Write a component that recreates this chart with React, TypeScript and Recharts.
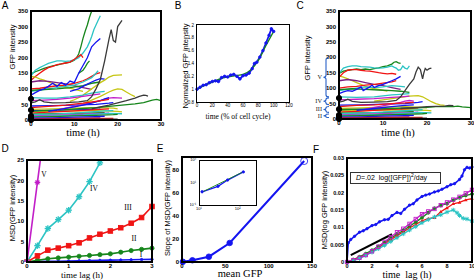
import React from "react";
import { ComposedChart, Line, XAxis, YAxis } from "recharts";

type Pt = [number, number];
type Trace = { color: string; pts: Pt[] };

const BLUE = "#1414f0";
const GREEN = "#17861c";
const RED = "#f01414";
const CYAN = "#2cc4c4";
const MAGENTA = "#c21fc8";
const OLIVE = "#c6c614";
const GRAY = "#3a3a3a";
const PURPLE = "#7c1f80";

const SANS = "'Liberation Sans', Arial, sans-serif";
const SERIF = "'Liberation Serif', 'Times New Roman', serif";

// ---- A: single-cell GFP traces (time h, intensity) ----
const TRACES_A: Trace[] = [
  { color: GREEN, pts: [[0, 148], [1, 155], [2, 160], [3, 166], [4, 170], [5, 174], [6, 176], [7, 180], [8, 183], [9, 186], [10, 192], [10.5, 200], [11, 212], [11.5, 235], [12, 262], [12.5, 285], [13, 305], [13.5, 330], [14, 350]] },
  { color: CYAN, pts: [[0, 142], [1, 160], [2, 168], [3, 175], [4, 182], [5, 186], [6, 190], [7, 190], [8, 188], [9, 190], [10, 193], [11, 200], [12, 215], [13, 235], [13.5, 250], [14, 268], [14.5, 290], [15, 305], [15.5, 320], [16, 335]] },
  { color: RED, pts: [[0, 128], [1, 140], [2, 150], [3, 160], [4, 168], [5, 172], [6, 178], [7, 180], [8, 183], [9, 186], [10, 195], [11, 205], [11.5, 210], [12, 200]] },
  { color: OLIVE, pts: [[0, 140], [1, 138], [2, 132], [3, 128], [4, 122], [5, 118], [6, 112], [7, 108], [8, 104], [9, 102], [10, 98], [11, 95], [12, 92]] },
  { color: PURPLE, pts: [[0, 122], [2, 126], [4, 124], [6, 120], [8, 116], [10, 110], [12, 104], [14, 98]] },
  { color: RED, pts: [[0, 100], [2, 102], [4, 106], [6, 110], [8, 112], [10, 118], [12, 126], [13, 132], [14, 140], [15, 148], [16, 152]] },
  { color: CYAN, pts: [[0, 92], [2, 96], [4, 100], [6, 104], [8, 108], [10, 112], [12, 122], [14, 136], [15, 150], [15.5, 158]] },
  { color: GREEN, pts: [[0, 95], [3, 98], [6, 100], [9, 104], [12, 110], [14, 118], [16, 122]] },
  { color: BLUE, pts: [[9, 92], [11, 100], [12, 108], [13, 115], [14, 122], [15, 128], [16, 133], [17, 131]] },
  { color: OLIVE, pts: [[9, 60], [10, 65], [11, 72], [12, 80], [13, 90], [14, 100], [15, 110], [16, 120], [17, 128], [18, 138], [19, 143], [20, 144], [21, 145]] },
  { color: GREEN, pts: [[0, 28], [3, 30], [6, 32], [9, 34], [12, 37], [15, 40], [18, 44], [21, 48], [24, 52], [26, 56], [27, 60], [28, 64], [29, 66], [30, 62]] },
  { color: GRAY, pts: [[14, 36], [16, 42], [18, 48], [20, 55], [22, 62], [24, 70], [25, 76], [26, 80], [26.5, 79], [27, 77]] },
  { color: OLIVE, pts: [[10, 42], [12, 52], [14, 64], [16, 76], [18, 90], [19, 96], [20, 100], [21, 98], [22, 90], [23, 82], [24, 75]] },
  { color: MAGENTA, pts: [[6, 32], [8, 38], [10, 44], [12, 50], [14, 56], [16, 62], [17, 66], [18, 70], [19, 72], [20, 71], [21, 70]] },
  { color: BLUE, pts: [[4, 28], [7, 35], [10, 42], [12, 48], [14, 54], [16, 62], [17, 68], [18, 72]] },
  { color: CYAN, pts: [[0, 72], [3, 70], [6, 70], [9, 74], [12, 80], [14, 86], [16, 90], [17, 92]] },
  { color: MAGENTA, pts: [[0, 62], [3, 64], [6, 66], [9, 70], [12, 76], [14, 80], [16, 84]] },
  { color: RED, pts: [[0, 40], [4, 44], [8, 48], [12, 54], [15, 60], [17, 64], [18, 66]] },
  { color: GREEN, pts: [[11, 150], [12, 160], [12.5, 170], [13, 182], [13.5, 190]] },
  { color: BLUE, pts: [[0, 80], [1, 88], [2, 95], [3, 100], [4, 108], [5, 118], [6, 108], [7, 120], [8, 112], [9, 125], [10, 120], [11, 150], [12, 175], [13, 200], [14, 235], [15, 250], [16, 262]] },
  { color: GRAY, pts: [[0, 55], [1, 58], [2, 65], [3, 58], [5, 55], [8, 56], [11, 58], [13, 62], [14, 75], [15, 100], [16, 130], [17, 190], [18, 260], [18.5, 290], [19, 255], [19.5, 250], [20, 300], [21, 320]] },
];

// dim cells, same in A and C
const TRACES_LOW: Trace[] = [
  { color: BLUE, pts: [[0, 45], [5, 46], [10, 48], [15, 50], [18, 54], [19, 56]] },
  { color: OLIVE, pts: [[0, 34], [5, 36], [10, 38], [15, 40], [19, 38], [20, 36]] },
  { color: BLUE, pts: [[0, 30], [6, 31], [12, 33], [16, 35]] },
  { color: OLIVE, pts: [[0, 26], [5, 27], [10, 29], [15, 30], [20, 28], [21, 26]] },
  { color: RED, pts: [[0, 22], [4, 25], [8, 28], [12, 31], [16, 34], [18, 36]] },
  { color: GREEN, pts: [[0, 19], [6, 20], [12, 22], [17, 24]] },
  { color: CYAN, pts: [[0, 17], [5, 19], [10, 22], [14, 26], [17, 29], [19, 30]] },
  { color: MAGENTA, pts: [[0, 13], [5, 15], [10, 17], [15, 20], [18, 22]] },
  { color: CYAN, pts: [[0, 11], [6, 13], [12, 16], [18, 21], [21, 20]] },
  { color: GREEN, pts: [[0, 9], [5, 11], [10, 13], [15, 15], [19, 17], [20, 18]] },
  { color: BLUE, pts: [[0, 6], [5, 7], [10, 9], [15, 11], [17, 12]] },
  { color: PURPLE, pts: [[0, 4], [6, 5], [12, 6], [16, 7]] },
  { color: RED, pts: [[0, 2], [6, 3], [12, 4], [18, 5], [19, 5]] },
  { color: GRAY, pts: [[0, 1], [8, 2], [16, 3], [20, 3]] },
];

// ---- C: traces truncated before the rise ----
const TRACES_C: Trace[] = [
  { color: OLIVE, pts: [[0, 140], [1, 136], [2, 130], [3, 124], [4, 118], [5, 112], [6, 106], [7, 102], [8, 98], [9, 96], [10, 93], [11, 90]] },
  { color: PURPLE, pts: [[0, 124], [2, 128], [4, 124], [6, 118], [8, 112], [10, 108], [12, 102], [14, 96]] },
  { color: RED, pts: [[0, 100], [2, 104], [4, 106], [6, 110], [8, 112], [10, 116], [12, 120], [13, 124]] },
  { color: CYAN, pts: [[0, 92], [2, 96], [4, 100], [6, 104], [8, 102], [10, 104], [12, 108], [14, 106], [15, 104]] },
  { color: GREEN, pts: [[0, 95], [3, 98], [6, 96], [9, 94], [12, 92], [14, 90], [16, 86]] },
  { color: OLIVE, pts: [[8, 58], [10, 62], [12, 66], [14, 70], [16, 74], [18, 76], [19, 72], [20, 64], [21, 56], [22, 50], [23, 46], [24, 44]] },
  { color: GREEN, pts: [[0, 30], [3, 31], [6, 32], [9, 33], [12, 34], [15, 35], [18, 36], [20, 38], [22, 40], [24, 40], [26, 40], [27, 42], [28, 39], [30, 37]] },
  { color: GRAY, pts: [[14, 34], [16, 36], [18, 38], [20, 40], [22, 41], [24, 42], [25, 44], [26, 43]] },
  { color: MAGENTA, pts: [[6, 32], [9, 40], [12, 48], [14, 54], [15, 58], [16, 60], [17, 58]] },
  { color: MAGENTA, pts: [[0, 62], [4, 64], [8, 66], [12, 70], [14, 72], [16, 74]] },
  { color: CYAN, pts: [[0, 72], [4, 70], [8, 72], [12, 78], [14, 80], [16, 82]] },
  { color: RED, pts: [[0, 40], [4, 44], [8, 46], [12, 50], [15, 52], [17, 54]] },
  { color: BLUE, pts: [[4, 28], [8, 34], [12, 40], [15, 44], [17, 46]] },
  { color: GREEN, pts: [[0, 148], [1, 155], [2, 158], [3, 160], [4, 162], [5, 160], [6, 162], [7, 160], [8, 163], [9, 166], [10, 170], [11, 172], [12, 178], [12.5, 184], [13, 186], [13.5, 182], [14, 180]] },
  { color: CYAN, pts: [[0, 148], [1, 165], [2, 170], [3, 172], [4, 172], [5, 170], [6, 169], [7, 168], [8, 166], [9, 165], [10, 166], [11, 168], [12, 172], [12.5, 168], [13, 165], [13.5, 158], [14, 160], [14.5, 172], [15, 165], [15.5, 162], [16, 172]] },
  { color: RED, pts: [[0, 135], [1, 150], [2, 158], [3, 160], [4, 160], [5, 158], [6, 156], [7, 155], [8, 153], [9, 150], [10, 148], [11, 146], [12, 148], [13, 145]] },
  { color: BLUE, pts: [[0, 82], [1, 88], [2, 92], [3, 90], [4, 96], [5, 104], [5.5, 92], [6, 96], [7, 104], [7.5, 110], [8, 102], [9, 108], [10, 112], [11, 118], [12, 124], [13, 130], [14, 138]] },
  { color: GRAY, pts: [[0, 55], [1, 58], [2, 64], [3, 57], [5, 54], [8, 55], [11, 56], [13, 60], [14, 72], [15, 92], [16, 112], [17, 130], [17.5, 152], [18, 168], [18.5, 160], [19, 130], [19.3, 150], [19.6, 164], [20, 158], [20.5, 163], [21, 165]] },
];

const START_DOTS = [0, 7, 13, 32, 68];
const A_X_TICKS = [0, 10, 20, 30];
const A_Y_TICKS = [0, 50, 100, 150, 200, 250, 300, 350];

// classes in C: [label, low, high]
const C_GROUPS: [string, number, number][] = [
  ["V", 70, 200],
  ["IV", 45, 70],
  ["III", 20, 42],
  ["II", 3, 18],
];

// ---- B: normalized mean trace ----
const B_DATA: Pt[] = [[0, 1], [4, 1.03], [8, 1.06], [12, 1.07], [16, 1.1], [20, 1.12], [24, 1.13], [28, 1.12], [32, 1.18], [36, 1.2], [40, 1.19], [44, 1.22], [48, 1.23], [52, 1.2], [56, 1.16], [60, 1.21], [64, 1.22], [68, 1.25], [72, 1.32], [75, 1.4], [78, 1.42], [82, 1.5], [86, 1.6], [90, 1.72], [94, 1.84], [97, 1.94], [100, 1.9]];
const B_FIT: Pt[] = [[0, 1], [10, 1.06], [20, 1.11], [30, 1.16], [40, 1.19], [50, 1.21], [60, 1.23], [70, 1.3], [80, 1.45], [90, 1.68], [100, 1.9]];

// ---- D: MSD vs time lag by class ----
const D_LAG = [0, 0.25, 0.5, 0.75, 1, 1.25, 1.5, 1.75, 2, 2.25, 2.5, 2.75, 3];
const D_I = [0, 0.1, 0.15, 0.2, 0.25, 0.3, 0.35, 0.4, 0.45, 0.5, 0.55, 0.6, 0.65];
const D_II = [0, 0.4, 0.8, 1.0, 1.2, 1.4, 1.6, 1.8, 2.0, 2.4, 2.8, 3.1, 3.4];
const D_III = [0, 1.5, 2.9, 3.4, 4.0, 4.7, 5.9, 6.8, 7.6, 8.4, 9.5, 10.9, 13.6];
const D_IV = [0, 4.0, 8.2, 10.4, 12.7, 16.0, 19.7, 24.3, 28.8];
const D_V = [0, 19.5, 39];

// ---- E: MSD slope vs mean GFP ----
const E_MEAN = [1, 12, 31, 55, 141];
const E_SLOPE = [0.2, 1.5, 4.6, 16.5, 87.5];
const E_FIT: Pt[] = [[12, 1.4], [141, 90]];

// ---- F: MSD of log GFP (x1e-3) ----
const F_BLUE: Pt[] = [[0, 0], [0.1, 5.5], [0.3, 6.5], [0.6, 7.4], [1, 8.6], [1.3, 9.0], [1.6, 9.6], [2, 10.5], [2.3, 10.8], [2.6, 11.6], [3, 12.2], [3.3, 12.3], [3.6, 13.4], [4, 14.3], [4.3, 14.0], [4.6, 15.2], [5, 16.4], [5.3, 16.8], [5.6, 17.9], [6, 18.9], [6.3, 19.3], [6.6, 19.6], [7, 20.2], [7.3, 20.5], [7.6, 21.0], [8, 21.7], [8.3, 22.3], [8.6, 22.6], [9, 23.8], [9.2, 24.8], [9.4, 26.6], [9.6, 27.3], [9.8, 27.1], [10, 27.4]];
const F_GREEN: Pt[] = [[0, 0], [0.5, 0.7], [1, 1.5], [1.5, 2.4], [2, 3.4], [2.5, 4.5], [3, 5.6], [3.5, 6.8], [4, 8.0], [4.5, 9.1], [5, 10.3], [5.5, 11.5], [6, 12.8], [6.5, 14.2], [7, 15.5], [7.5, 16.3], [8, 16.8], [8.5, 17.8], [9, 18.5], [9.5, 19.2], [10, 19.6]];
const F_RED: Pt[] = [[0, 0], [0.5, 0.6], [1, 1.3], [1.5, 2.1], [2, 3.0], [2.5, 4.1], [3, 5.2], [3.5, 6.4], [4, 7.6], [4.5, 8.7], [5, 9.8], [5.5, 10.8], [6, 11.9], [6.5, 12.5], [7, 12.8], [7.5, 14.5], [8, 15.6], [8.5, 16.8], [9, 17.2], [9.5, 17.9], [10, 18.3]];
const F_CYAN: Pt[] = [[0, 0], [0.5, 0.4], [1, 1.0], [1.5, 1.9], [2, 2.8], [2.5, 3.8], [3, 4.8], [3.5, 5.9], [4, 7.0], [4.5, 8.1], [5, 9.2], [5.5, 10.2], [6, 11.3], [6.5, 12.2], [7, 13.0], [7.5, 13.6], [8, 14.4], [8.5, 15.0], [8.8, 14.2], [9, 13.4], [9.3, 12.6], [9.6, 12.4], [10, 11.8]];
const F_MAGENTA: Pt[] = [[0, 0], [0.5, 0.5], [1, 1.2], [1.5, 2.0], [2, 3.1], [2.5, 4.4], [3, 5.8], [3.5, 7.2], [4, 8.6], [4.5, 9.6], [5, 11.0], [5.5, 12.4], [6, 13.8], [6.5, 14.6], [7, 15.3], [7.5, 16.4], [8, 17.2], [8.5, 18.0], [9, 18.8], [9.5, 19.8], [10, 20.8]];
const F_FIT: Pt[] = [[0.3, 2.0], [3.6, 8.0]];

const rows = (pts: Pt[], k = 1) => pts.map(([x, y]) => ({ x, y: y * k }));
const zip = (xs: number[], ys: number[]) => ys.map((y, i) => ({ x: xs[i], y }));

type DotP = { cx?: number; cy?: number; index?: number };
const circle = (r: number, fill: string, stroke = fill) => (p: DotP) => (
  <circle key={p.index} cx={p.cx} cy={p.cy} r={r} fill={fill} stroke={stroke} strokeWidth={0.8} />
);
const square = (s: number, fill: string, stroke: string) => (p: DotP) => (
  <rect key={p.index} x={(p.cx ?? 0) - s / 2} y={(p.cy ?? 0) - s / 2} width={s} height={s} fill={fill} stroke={stroke} strokeWidth={0.9} />
);
const tri = (s: number, color: string) => (p: DotP) => {
  const cx = p.cx ?? 0, cy = p.cy ?? 0;
  return <path key={p.index} d={`M${cx},${cy - s} L${cx + s},${cy + s * 0.7} L${cx - s},${cy + s * 0.7} Z`} fill={color} />;
};
const star = (r: number, color: string, w = 1) => (p: DotP) => {
  const cx = p.cx ?? 0, cy = p.cy ?? 0, d = r * 0.7;
  return (
    <g key={p.index} stroke={color} strokeWidth={w}>
      <line x1={cx - r} y1={cy} x2={cx + r} y2={cy} />
      <line x1={cx} y1={cy - r} x2={cx} y2={cy + r} />
      <line x1={cx - d} y1={cy - d} x2={cx + d} y2={cy + d} />
      <line x1={cx - d} y1={cy + d} x2={cx + d} y2={cy - d} />
    </g>
  );
};

// plot area is pinned to box = [left, top, right, bottom] in page pixels
function Plot(props: any) {
  const { box, yw, xh = 10, xDomain, yDomain, xTicks, yTicks, fs = 6, bold = true, log = false, frame = 2, clip = false, xFmt, yFmt, children } = props;
  const [l, t, r, b] = box;
  const right = 9;
  const w = r - l + yw + right;
  const h = b - t + 2 + xh;
  const tick = { fontSize: fs, fill: "#000", fontFamily: SANS, fontWeight: bold ? 700 : 400 };
  return (
    <div style={{ position: "absolute", left: l - yw, top: t - 2, width: w, height: h }}>
      <ComposedChart width={w} height={h} margin={{ top: 2, right, bottom: 0, left: 0 }}>
        <XAxis type="number" dataKey="x" scale={log ? "log" : "auto"} domain={xDomain} ticks={xTicks} interval={0} height={xh}
          axisLine={false} tickLine={false} tickSize={2} tickMargin={0} tick={tick} tickFormatter={xFmt} allowDataOverflow={log} />
        <YAxis type="number" dataKey="y" scale={log ? "log" : "auto"} domain={yDomain} ticks={yTicks} interval={0} width={yw}
          axisLine={false} tickLine={false} tickSize={2} tickMargin={1} tick={tick} tickFormatter={yFmt} allowDataOverflow={clip || log} />
        {children}
      </ComposedChart>
      <div style={{ position: "absolute", left: yw - frame / 2, top: 2 - frame / 2, width: r - l + frame, height: b - t + frame,
        border: `${frame}px solid #000`, boxSizing: "border-box", pointerEvents: "none" }} />
    </div>
  );
}

function Txt({ x, y, size, serif = false, rot = false, bold = false, color = "#000", children }: any) {
  return (
    <div style={{ position: "absolute", left: x, top: y, transform: `translate(-50%, -50%)${rot ? " rotate(-90deg)" : ""}`,
      fontSize: size, fontFamily: serif ? SERIF : SANS, fontWeight: bold ? 700 : 400, whiteSpace: "nowrap", lineHeight: 1, color }}>
      {children}
    </div>
  );
}

const traceLines = (traces: Trace[], key: string) =>
  traces.map((tr, i) => (
    <Line key={key + i} data={rows(tr.pts)} dataKey="y" stroke={tr.color} strokeWidth={1.3} dot={false} isAnimationActive={false} />
  ));

const startDots = (key: string) => (
  <Line key={key} data={START_DOTS.map((v) => ({ x: 0, y: v }))} dataKey="y" stroke="none" dot={{ r: 2.6, fill: "#000", stroke: "#000" }} isAnimationActive={false} />
);

// C y-scale, used to place the class braces beside the axis
const C_TOP = 11, C_BOT = 119;
const yC = (v: number) => C_TOP + ((350 - v) / 350) * (C_BOT - C_TOP);

function Braces() {
  const x = 326;
  return (
    <svg width={474} height={280} style={{ position: "absolute", left: 0, top: 0, pointerEvents: "none" }}>
      {C_GROUPS.map(([name, lo, hi]) => {
        const y1 = yC(hi) + 0.5, y2 = yC(lo) - 0.5, ym = (y1 + y2) / 2, c = Math.min(2, (y2 - y1) / 4);
        return (
          <g key={name}>
            <path d={`M${x + 3},${y1} Q${x},${y1} ${x},${y1 + c} L${x},${ym - c} Q${x},${ym} ${x - 2.5},${ym} Q${x},${ym} ${x},${ym + c} L${x},${y2 - c} Q${x},${y2} ${x + 3},${y2}`}
              fill="none" stroke="#2a62c8" strokeWidth={1.1} />
            <text x={x - 4} y={ym + 2} textAnchor="end" fontSize={6.3} fontFamily={SERIF} fill="#222">{name}</text>
          </g>
        );
      })}
    </svg>
  );
}

const pow10 = (v: number) => {
  const e = Math.round(Math.log10(v));
  const sup: Record<string, string> = { "-": "⁻", "0": "⁰", "1": "¹", "2": "²", "3": "³" };
  return "10" + String(e).split("").map((ch) => sup[ch]).join("");
};

export default function App() {
  const eRows = zip(E_MEAN, E_SLOPE);
  const eLast = eRows.length - 1;
  return (
    <div style={{ position: "fixed", left: 0, top: 0, width: 474, height: 280, background: "#fff", overflow: "hidden" }}>
      {/* A */}
      <Plot box={[31, 11, 161, 120]} yw={31} xDomain={[0, 30]} yDomain={[0, 350]} xTicks={A_X_TICKS} yTicks={A_Y_TICKS}>
        {traceLines(TRACES_LOW, "al")}
        {traceLines(TRACES_A, "a")}
        {startDots("adots")}
      </Plot>
      <Txt x={5} y={6} size={10}>A</Txt>
      <Txt x={13} y={47} size={7.5} rot>GFP intensity</Txt>
      <Txt x={83} y={133} size={10.5} serif>time (h)</Txt>

      {/* B */}
      <Plot box={[197, 25, 289, 102]} yw={14} fs={4.5} bold={false} frame={1.6} xDomain={[0, 120]} yDomain={[0.8, 2]}
        xTicks={[0, 20, 40, 60, 80, 100, 120]} yTicks={[0.8, 1, 1.2, 1.4, 1.6, 1.8, 2]}>
        <Line data={rows(B_DATA)} dataKey="y" stroke={BLUE} strokeWidth={1.8} dot={circle(1.3, BLUE)} isAnimationActive={false} />
        <Line data={rows(B_FIT)} dataKey="y" type="monotone" stroke={GREEN} strokeWidth={1.3} dot={false} isAnimationActive={false} />
      </Plot>
      <Txt x={178} y={6} size={10}>B</Txt>
      <Txt x={186} y={66} size={7.5} rot>Normalized GFP intensity</Txt>
      <Txt x={238} y={117} size={7.5} serif>time (% of cell cycle)</Txt>

      {/* C */}
      <Plot box={[339, C_TOP, 471, C_BOT]} yw={20} xDomain={[0, 30]} yDomain={[0, 350]} xTicks={A_X_TICKS} yTicks={A_Y_TICKS}>
        {traceLines(TRACES_LOW, "cl")}
        {traceLines(TRACES_C, "c")}
        {startDots("cdots")}
      </Plot>
      <Braces />
      <Txt x={300} y={6} size={10}>C</Txt>
      <Txt x={308} y={58} size={7.5} rot>GFP intensity</Txt>
      <Txt x={398} y={133} size={10.5} serif>time (h)</Txt>

      {/* D */}
      <Plot box={[27, 160, 152, 262]} yw={27} clip xDomain={[0, 3]} yDomain={[0, 25]} xTicks={[0, 1, 2, 3]} yTicks={[0, 5, 10, 15, 20, 25]}>
        <Line data={zip(D_LAG, D_I)} dataKey="y" stroke={BLUE} strokeWidth={1.6} dot={circle(1.2, BLUE)} isAnimationActive={false} />
        <Line data={zip(D_LAG, D_II)} dataKey="y" stroke={GREEN} strokeWidth={1.6} dot={circle(2.1, GREEN)} isAnimationActive={false} />
        <Line data={zip(D_LAG, D_III)} dataKey="y" stroke={RED} strokeWidth={1.6} dot={square(4.6, RED, RED)} isAnimationActive={false} />
        <Line data={zip(D_LAG, D_IV)} dataKey="y" stroke={CYAN} strokeWidth={1.6} dot={star(3.2, CYAN, 1.3)} isAnimationActive={false} />
        <Line data={zip(D_LAG, D_V)} dataKey="y" stroke={MAGENTA} strokeWidth={1.6} dot={star(2.8, MAGENTA, 1.3)} isAnimationActive={false} />
      </Plot>
      <Txt x={5} y={149} size={10}>D</Txt>
      <Txt x={13} y={208} size={7.5} rot>MSD(GFP intensity)</Txt>
      <Txt x={82} y={275} size={9} serif>time lag (h)</Txt>
      <Txt x={44} y={175} size={7.5} serif>V</Txt>
      <Txt x={94} y={189} size={7.5} serif>IV</Txt>
      <Txt x={128} y={208} size={7.5} serif>III</Txt>
      <Txt x={134} y={239} size={7.5} serif>II</Txt>
      <Txt x={141} y={255} size={7.5} serif>I</Txt>

      {/* E */}
      <Plot box={[182, 157, 312, 262]} yw={14} xDomain={[0, 150]} yDomain={[0, 91]} xTicks={[0, 50, 100, 150]} yTicks={[0, 20, 40, 60, 80]}>
        <Line data={eRows} dataKey="y" stroke={BLUE} strokeWidth={2} isAnimationActive={false}
          dot={(p: DotP) => (p.index === eLast ? circle(3.5, "none", BLUE)(p) : circle(2.8, BLUE)(p))} />
      </Plot>
      <div style={{ position: "absolute", left: 199, top: 160, width: 57, height: 45, background: "#fff" }} />
      <Plot box={[199, 160, 256, 205]} yw={9} xh={7} fs={4} bold={false} frame={1} log
        xDomain={[10, 300]} yDomain={[0.1, 1000]} xTicks={[10, 100]} yTicks={[0.1, 10, 1000]} xFmt={pow10} yFmt={pow10}>
        <Line data={eRows.filter((d) => d.x >= 10)} dataKey="y" stroke={BLUE} strokeWidth={1.3} dot={circle(1.2, BLUE)} isAnimationActive={false} />
        <Line data={rows(E_FIT)} dataKey="y" stroke={GREEN} strokeWidth={0.9} dot={false} isAnimationActive={false} />
      </Plot>
      <Txt x={160} y={149} size={10}>E</Txt>
      <Txt x={168} y={208} size={7.5} rot>Slope of MSD(GFP intensity)</Txt>
      <Txt x={240} y={274} size={10.5} serif>mean GFP</Txt>

      {/* F */}
      <Plot box={[347, 158, 472, 262]} yw={20} fs={5.5} xDomain={[0, 10]} yDomain={[0, 0.03]} xTicks={[0, 2, 4, 6, 8, 10]}
        yTicks={[0, 0.005, 0.01, 0.015, 0.02, 0.025, 0.03]}>
        <Line data={rows(F_BLUE, 0.001)} dataKey="y" stroke={BLUE} strokeWidth={1.6} dot={circle(1.2, BLUE)} isAnimationActive={false} />
        <Line data={rows(F_GREEN, 0.001)} dataKey="y" stroke={GREEN} strokeWidth={1.3} dot={circle(1.5, GREEN)} isAnimationActive={false} />
        <Line data={rows(F_RED, 0.001)} dataKey="y" stroke={RED} strokeWidth={1.3} dot={tri(1.8, RED)} isAnimationActive={false} />
        <Line data={rows(F_CYAN, 0.001)} dataKey="y" stroke={CYAN} strokeWidth={1.3} dot={star(2.2, CYAN, 1)} isAnimationActive={false} />
        <Line data={rows(F_MAGENTA, 0.001)} dataKey="y" stroke={MAGENTA} strokeWidth={1.3} dot={square(3.4, "none", MAGENTA)} isAnimationActive={false} />
        <Line data={rows(F_FIT, 0.001)} dataKey="y" stroke="#000" strokeWidth={2} dot={false} isAnimationActive={false} />
      </Plot>
      <div style={{ position: "absolute", left: 350, top: 172, width: 91, height: 12, border: "1px solid #333", boxSizing: "border-box",
        background: "#fff", fontFamily: SANS, fontSize: 7, lineHeight: "10px", paddingLeft: 5, whiteSpace: "nowrap" }}>
        <i>D</i>=.02&nbsp; log([GFP])<sup style={{ fontSize: 5, lineHeight: 0 }}>2</sup>/day
      </div>
      <Txt x={316} y={150} size={10}>F</Txt>
      <Txt x={325} y={210} size={7.5} rot>MSD(log GFP intensity)</Txt>
      <Txt x={407} y={275} size={10} serif>time&nbsp; lag (h)</Txt>
    </div>
  );
}
